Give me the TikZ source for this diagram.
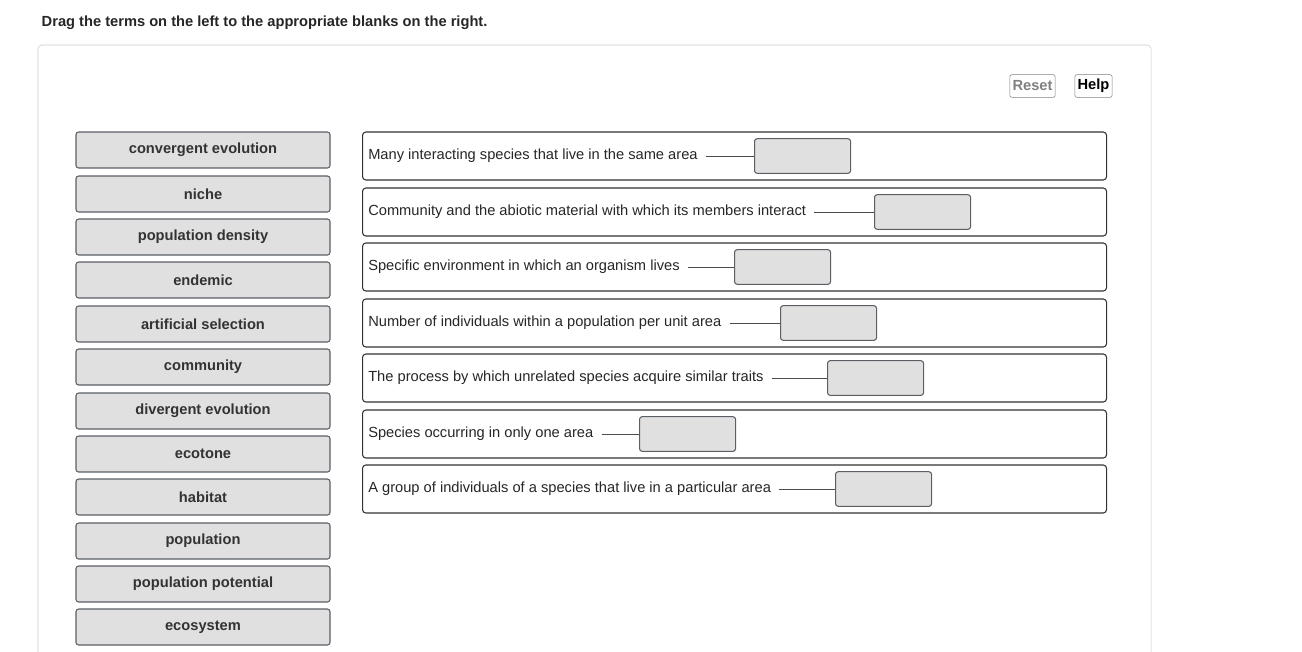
\documentclass[tikz,border=0pt]{standalone}
\usepackage{fontspec}
\setmainfont{Liberation Sans}
\usetikzlibrary{positioning}
\definecolor{boxgray}{HTML}{E0E0E0}
\definecolor{edgegray}{HTML}{5A5F66}
\definecolor{panelgray}{HTML}{C8C8C8}
\begin{document}
\begin{tikzpicture}[
    x=0.75pt, y=-0.75pt,
    term/.style={
      rectangle,
      draw=edgegray,
      thick,
      fill=boxgray,
      rounded corners=2pt,
      minimum width=190.5pt,
      minimum height=27pt,
      font=\fontsize{11}{13}\selectfont\bfseries,
      text=black!80
    },
    stmt/.style={
      rectangle,
      draw=black!80,
      thick,
      rounded corners=2.5pt,
      minimum width=558pt,
      minimum height=36pt,
      anchor=west
    },
    blank/.style={
      rectangle,
      draw=edgegray,
      thick,
      fill=boxgray,
      rounded corners=2pt,
      minimum width=72pt,
      minimum height=26pt,
      anchor=west
    },
    stext/.style={
      anchor=west,
      inner xsep=0pt,
      font=\fontsize{11}{13}\selectfont,
      text=black!85
    },
    button/.style={
      rectangle,
      draw=gray,
      rounded corners=1.5pt,
      inner sep=2pt,
      minimum height=17pt,
      font=\fontsize{11}{13}\selectfont\bfseries
    }]

    \useasboundingbox (0,0) rectangle (1302,651);

    % instruction
    \node[anchor=west, font=\fontsize{11}{13}\selectfont\bfseries, text=black!85]
      (title) at (37,23) {Drag the terms on the left to the appropriate blanks on the right.};

    % panel
    \draw[panelgray, rounded corners=3pt] (38,660) -- (38,45) -- (1151,45) -- (1151,660);

    % buttons
    \node[button, text=gray] (reset) at (1032.5,86) {Reset};
    \node[button] (help) at (1093.5,86) {Help};

    % terms
    \foreach \name/\y/\txt in {
      t1/150/convergent evolution, t2/194/niche, t3/237/population density,
      t4/280/endemic, t5/324/artificial selection, t6/367/community,
      t7/411/divergent evolution, t8/454/ecotone, t9/497/habitat,
      t10/541/population, t11/584/population potential, t12/627/ecosystem}
      \node[term] (\name) at (203,\y) {\txt};

    % statements with blanks
    \foreach \name/\y/\bx/\txt in {
      s1/156/754/Many interacting species that live in the same area,
      s2/212/874/Community and the abiotic material with which its members interact,
      s3/267/734/Specific environment in which an organism lives,
      s4/323/780/Number of individuals within a population per unit area,
      s5/378/827/The process by which unrelated species acquire similar traits,
      s6/434/639/Species occurring in only one area,
      s7/489/835/A group of individuals of a species that live in a particular area}
    {
      \node[stmt] (\name) at (362,\y) {};
      \node[stext] (\name txt) at (368,\y) {\txt};
      \node[blank] (\name b) at (\bx,\y) {};
      \draw[black!70, shorten <=6pt] (\name txt.east) -- (\name b.west);
    }
  \end{tikzpicture}
\end{document}
